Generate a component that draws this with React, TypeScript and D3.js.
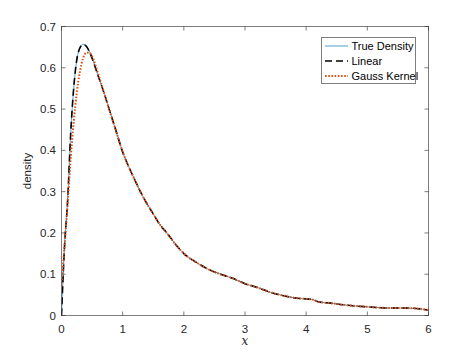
import React from "react";
import * as d3 from "d3";

const xs = [0, 0.05, 0.1, 0.15, 0.2, 0.25, 0.3, 0.35, 0.4, 0.45, 0.5, 0.6, 0.7, 0.8, 0.9, 1.0, 1.1, 1.2, 1.3, 1.4, 1.5, 1.6, 1.65, 1.7, 1.8, 1.9, 2.0, 2.2, 2.4, 2.6, 2.8, 3.0, 3.2, 3.4, 3.6, 3.8, 4.0, 4.1, 4.2, 4.4, 4.6, 4.8, 5.0, 5.2, 5.4, 5.6, 5.8, 6.0];
const trueDensity = [0, 0.17, 0.28, 0.44, 0.55, 0.618, 0.647, 0.657, 0.654, 0.642, 0.624, 0.58, 0.538, 0.49, 0.443, 0.396, 0.36, 0.328, 0.297, 0.27, 0.246, 0.222, 0.212, 0.204, 0.185, 0.166, 0.15, 0.129, 0.112, 0.1, 0.09, 0.077, 0.068, 0.057, 0.049, 0.043, 0.04, 0.039, 0.033, 0.03, 0.026, 0.023, 0.021, 0.019, 0.018, 0.018, 0.017, 0.013];
const linearEst = [0, 0.168, 0.278, 0.44, 0.552, 0.62, 0.648, 0.656, 0.653, 0.641, 0.623, 0.58, 0.537, 0.49, 0.443, 0.396, 0.36, 0.328, 0.297, 0.27, 0.246, 0.222, 0.212, 0.204, 0.185, 0.166, 0.15, 0.129, 0.112, 0.1, 0.09, 0.077, 0.068, 0.057, 0.049, 0.043, 0.04, 0.039, 0.033, 0.03, 0.026, 0.023, 0.021, 0.019, 0.018, 0.018, 0.017, 0.013];
const gaussKernel = [0.07, 0.17, 0.27, 0.38, 0.47, 0.54, 0.59, 0.622, 0.636, 0.637, 0.628, 0.585, 0.537, 0.49, 0.443, 0.396, 0.36, 0.328, 0.297, 0.27, 0.246, 0.222, 0.213, 0.204, 0.185, 0.166, 0.15, 0.129, 0.112, 0.1, 0.09, 0.077, 0.068, 0.057, 0.049, 0.043, 0.04, 0.039, 0.033, 0.03, 0.026, 0.023, 0.021, 0.019, 0.018, 0.018, 0.017, 0.013];

const xTicks = [0, 1, 2, 3, 4, 5, 6];
const yTicks = [0, 0.1, 0.2, 0.3, 0.4, 0.5, 0.6, 0.7];
const legendLabels = ["True Density", "Linear", "Gauss Kernel"];

const W = 474, H = 355;
const L = 61.5, R = 428.5, T = 26.5, B = 315.5;
const axisColor = "#262626";
const font = "'Liberation Sans', Arial, sans-serif";

export default function App() {
  const x = d3.scaleLinear().domain([0, 6]).range([L, R]);
  const y = d3.scaleLinear().domain([0, 0.7]).range([B, T]);
  const mk = (vals: number[]) =>
    d3.line<number>().x((_, i) => x(xs[i])).y((v) => y(v)).curve(d3.curveMonotoneX)(vals) || "";

  const series = [
    { vals: trueDensity, stroke: "#4f9fd8", width: 1, dash: undefined as string | undefined },
    { vals: linearEst, stroke: "#000000", width: 1.6, dash: "7,4" },
    { vals: gaussKernel, stroke: "#D95319", width: 2, dash: "1.6,1.6" },
  ];
  const tl = 4;
  const lx = 321.5, ly = 37.5, lw = 94, lh = 46;

  return (
    <svg width={W} height={H} style={{ position: "absolute", left: 0, top: 0, background: "#fff" }}>
      <rect x={0} y={0} width={W} height={H} fill="#fff" />
      <defs>
        <clipPath id="clip">
          <rect x={L} y={T - 2} width={R - L} height={B - T + 2} />
        </clipPath>
      </defs>
      <g clipPath="url(#clip)">
        {series.map((s, i) => (
          <path key={i} d={mk(s.vals)} fill="none" stroke={s.stroke} strokeWidth={s.width} strokeDasharray={s.dash} />
        ))}
      </g>
      <rect x={L} y={T} width={R - L} height={B - T} fill="none" stroke={axisColor} strokeOpacity={0.6} strokeWidth={1} />
      {xTicks.map((t) => (
        <g key={"x" + t}>
          <line x1={x(t)} x2={x(t)} y1={B} y2={B - tl} stroke={axisColor} strokeOpacity={0.6} />
          <line x1={x(t)} x2={x(t)} y1={T} y2={T + tl} stroke={axisColor} strokeOpacity={0.6} />
          <text x={x(t)} y={333} textAnchor="middle" fontFamily={font} fontSize={11.5} fill={axisColor}>{t}</text>
        </g>
      ))}
      {yTicks.map((t) => (
        <g key={"y" + t}>
          <line x1={L} x2={L + tl} y1={y(t)} y2={y(t)} stroke={axisColor} strokeOpacity={0.6} />
          <line x1={R} x2={R - tl} y1={y(t)} y2={y(t)} stroke={axisColor} strokeOpacity={0.6} />
          <text x={56} y={y(t) + 4} textAnchor="end" fontFamily={font} fontSize={11.5} fill={axisColor}>{t}</text>
        </g>
      ))}
      <text x={0} y={0} transform={`translate(31,${(T + B) / 2}) rotate(-90)`} textAnchor="middle" fontFamily={font} fontSize={11.5} fill={axisColor}>density</text>
      <text x={(L + R) / 2} y={345} textAnchor="middle" fontFamily="'DejaVu Serif', 'Liberation Serif', serif" fontStyle="italic" fontSize={12} fill={axisColor}>x</text>
      <rect x={lx} y={ly} width={lw} height={lh} fill="#fff" stroke={axisColor} strokeOpacity={0.6} />
      {legendLabels.map((lab, i) => {
        const yy = ly + 8.5 + i * 15;
        const s = series[i];
        return (
          <g key={lab}>
            <line x1={325} x2={348} y1={yy} y2={yy} stroke={s.stroke} strokeWidth={s.width} strokeDasharray={s.dash} />
            <text x={351.5} y={yy + 4} fontFamily={font} fontSize={11} fill="#000">{lab}</text>
          </g>
        );
      })}
    </svg>
  );
}
